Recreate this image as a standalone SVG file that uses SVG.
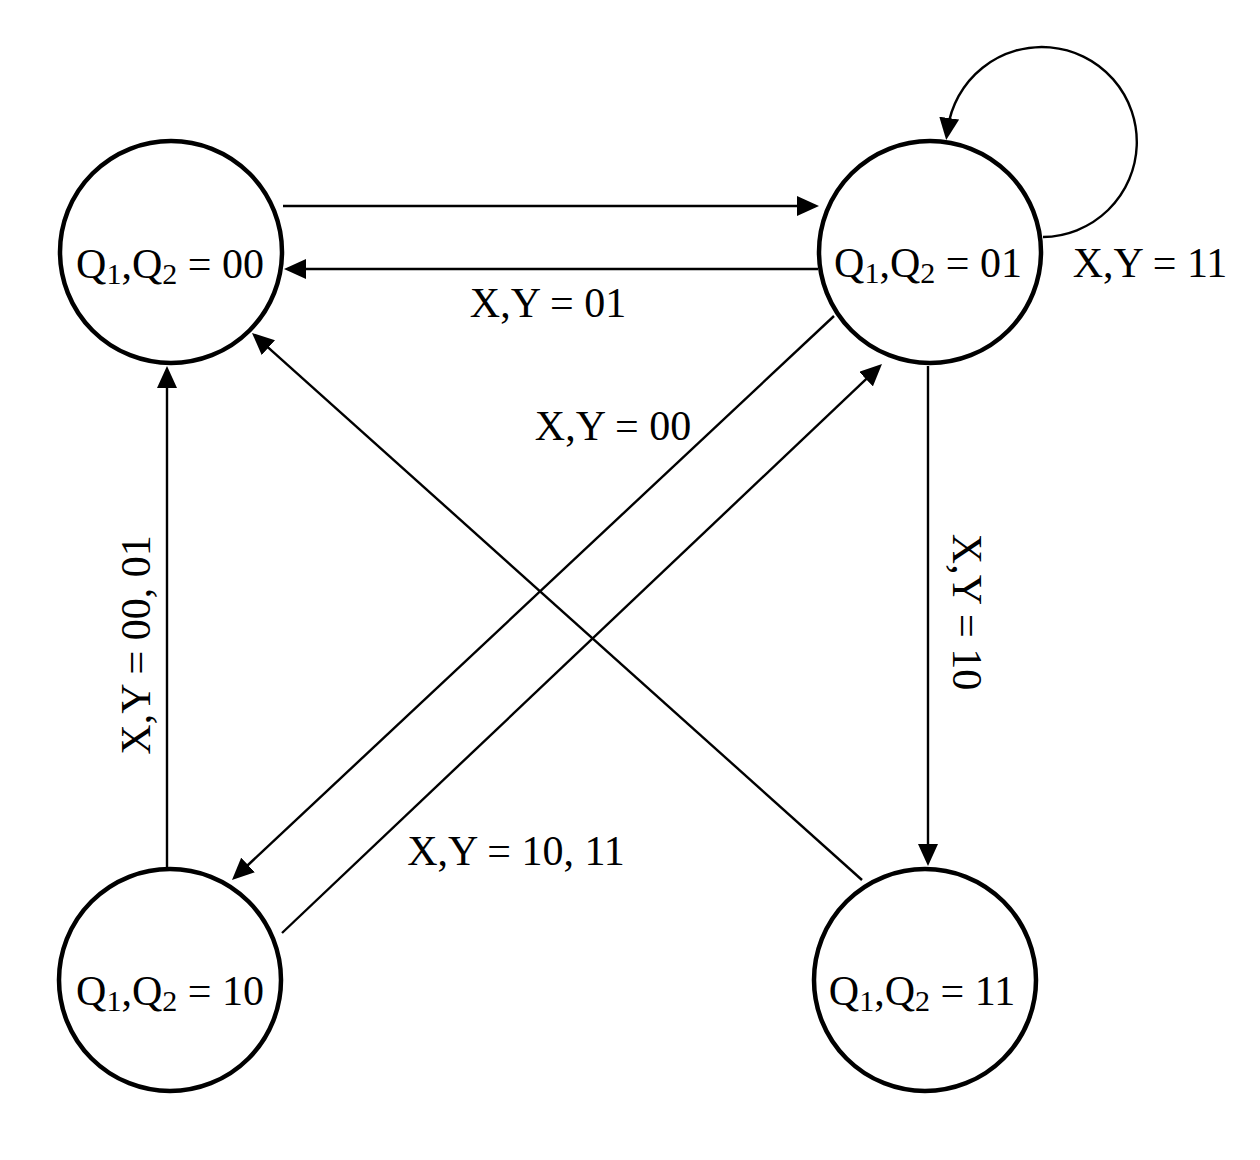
<svg xmlns="http://www.w3.org/2000/svg" width="1260" height="1160" viewBox="0 0 1260 1160">
<style>
  .node { fill: #ffffff; stroke: #000000; stroke-width: 4.5; }
  .edge { fill: none; stroke: #000000; stroke-width: 2.4; }
  text { font-family: "Liberation Serif", "Times New Roman", serif; font-size: 42px; fill: #000000; }
  .sub { font-size: 30px; }
</style>
<defs>
  <marker id="arrow" markerUnits="userSpaceOnUse" markerWidth="22" markerHeight="20" viewBox="0 0 22 20" refX="11" refY="10" orient="auto">
    <path d="M0,0 L22,10 L0,20 Z" fill="#000000"/>
  </marker>
</defs>
<rect width="1260" height="1160" fill="#ffffff"/>
<g id="connectors">
  <line class="edge" x1="283" y1="206" x2="808" y2="206" marker-end="url(#arrow)"/>
  <line class="edge" x1="818" y1="269" x2="295" y2="269" marker-end="url(#arrow)"/>
  <path class="edge" d="M1043,237 A95,95 0 1,0 947.7,129" marker-end="url(#arrow)"/>
  <line class="edge" x1="928" y1="366" x2="928" y2="855" marker-end="url(#arrow)"/>
  <line class="edge" x1="167" y1="868" x2="167" y2="377" marker-end="url(#arrow)"/>
  <line class="edge" x1="834" y1="316" x2="240" y2="872.5" marker-end="url(#arrow)"/>
  <line class="edge" x1="282" y1="933" x2="874" y2="371.6" marker-end="url(#arrow)"/>
  <line class="edge" x1="862" y1="880" x2="260.2" y2="340.3" marker-end="url(#arrow)"/>
</g>
<g id="edge-labels">
  <text x="548" y="317" text-anchor="middle">X,Y = 01</text>
  <text x="1150" y="277" text-anchor="middle">X,Y = 11</text>
  <text x="613" y="440" text-anchor="middle">X,Y = 00</text>
  <text x="516" y="865" text-anchor="middle">X,Y = 10, 11</text>
  <text transform="translate(150,645) rotate(-90)" text-anchor="middle">X,Y = 00, 01</text>
  <text transform="translate(953,612) rotate(90)" text-anchor="middle">X,Y = 10</text>
</g>
<g id="node-00">
  <circle class="node" cx="171" cy="252" r="111"/>
  <text x="170" y="278" text-anchor="middle">Q<tspan class="sub" dy="6">1</tspan><tspan dy="-6">,Q</tspan><tspan class="sub" dy="6">2</tspan><tspan dy="-6"> = 00</tspan></text>
</g>
<g id="node-01">
  <circle class="node" cx="930" cy="252" r="111"/>
  <text x="928" y="277" text-anchor="middle">Q<tspan class="sub" dy="6">1</tspan><tspan dy="-6">,Q</tspan><tspan class="sub" dy="6">2</tspan><tspan dy="-6"> = 01</tspan></text>
</g>
<g id="node-10">
  <circle class="node" cx="170" cy="980" r="111"/>
  <text x="170" y="1005" text-anchor="middle">Q<tspan class="sub" dy="6">1</tspan><tspan dy="-6">,Q</tspan><tspan class="sub" dy="6">2</tspan><tspan dy="-6"> = 10</tspan></text>
</g>
<g id="node-11">
  <circle class="node" cx="925" cy="980" r="111"/>
  <text x="922" y="1005" text-anchor="middle">Q<tspan class="sub" dy="6">1</tspan><tspan dy="-6">,Q</tspan><tspan class="sub" dy="6">2</tspan><tspan dy="-6"> = 11</tspan></text>
</g>
</svg>
